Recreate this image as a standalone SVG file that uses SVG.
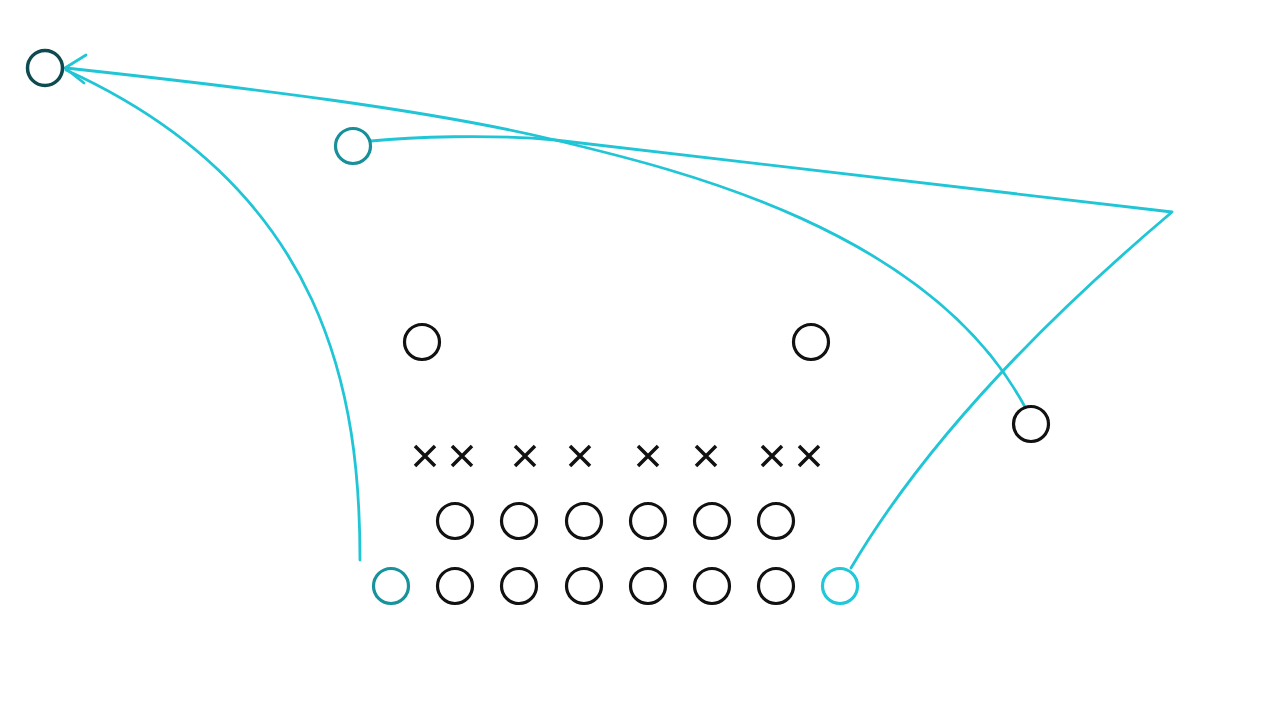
<svg xmlns="http://www.w3.org/2000/svg" width="1280" height="720" viewBox="0 0 1280 720">
<style>
.bg{fill:#ffffff}
.p{fill:none;stroke:#111111;stroke-width:3.2}
.x{stroke:#111111;stroke-width:3.5;stroke-linecap:butt}
.route{fill:none;stroke:#20c5d6;stroke-width:2.8;stroke-linecap:round;stroke-linejoin:round}
</style>
<rect class="bg" x="0" y="0" width="1280" height="720"/>
<g id="connectors">
<path class="route" d="M360,560 C360,400 330,190 66,70"/>
<path class="route" d="M66,68 C250,88 430,110 555,140 C680,170 930,230 1025,407"/>
<path class="route" d="M371,141 C410,137 490,134 555,140 L1172,212 Q950,400 851,568"/>
<polyline class="route" points="86,55 65,68 84,83"/>
</g>
<g id="node-target"><circle cx="45" cy="68" r="17.5" fill="#fff" stroke="#0e4a50" stroke-width="3.5"/></g>
<g id="node-qb"><circle cx="353" cy="146" r="17.5" fill="#fff" stroke="#17909a" stroke-width="3.2"/></g>
<g id="node-lb1"><circle class="p" cx="422" cy="342" r="17.5" fill="#fff"/></g>
<g id="node-lb2"><circle class="p" cx="811" cy="342" r="17.5" fill="#fff"/></g>
<g id="node-db"><circle class="p" cx="1031" cy="424" r="17.5" fill="#fff"/></g>
<g id="defenders-x">
<path class="x" d="M415,446 L435,466 M435,446 L415,466"/>
<path class="x" d="M452,446 L472,466 M472,446 L452,466"/>
<path class="x" d="M515,446 L535,466 M535,446 L515,466"/>
<path class="x" d="M570,446 L590,466 M590,446 L570,466"/>
<path class="x" d="M638,446 L658,466 M658,446 L638,466"/>
<path class="x" d="M696,446 L716,466 M716,446 L696,466"/>
<path class="x" d="M762,446 L782,466 M782,446 L762,466"/>
<path class="x" d="M799,446 L819,466 M819,446 L799,466"/>
</g>
<g id="row1">
<circle class="p" cx="455" cy="521" r="17.5"/>
<circle class="p" cx="519" cy="521" r="17.5"/>
<circle class="p" cx="584" cy="521" r="17.5"/>
<circle class="p" cx="648" cy="521" r="17.5"/>
<circle class="p" cx="712" cy="521" r="17.5"/>
<circle class="p" cx="776" cy="521" r="17.5"/>
</g>
<g id="row2">
<circle class="p" cx="455" cy="586" r="17.5"/>
<circle class="p" cx="519" cy="586" r="17.5"/>
<circle class="p" cx="584" cy="586" r="17.5"/>
<circle class="p" cx="648" cy="586" r="17.5"/>
<circle class="p" cx="712" cy="586" r="17.5"/>
<circle class="p" cx="776" cy="586" r="17.5"/>
</g>
<g id="node-left"><circle cx="391" cy="586" r="17.5" fill="#fff" stroke="#17939b" stroke-width="3.2"/></g>
<g id="node-right"><circle cx="840" cy="586" r="17.5" fill="#fff" stroke="#22c8d8" stroke-width="3.2"/></g>
</svg>
